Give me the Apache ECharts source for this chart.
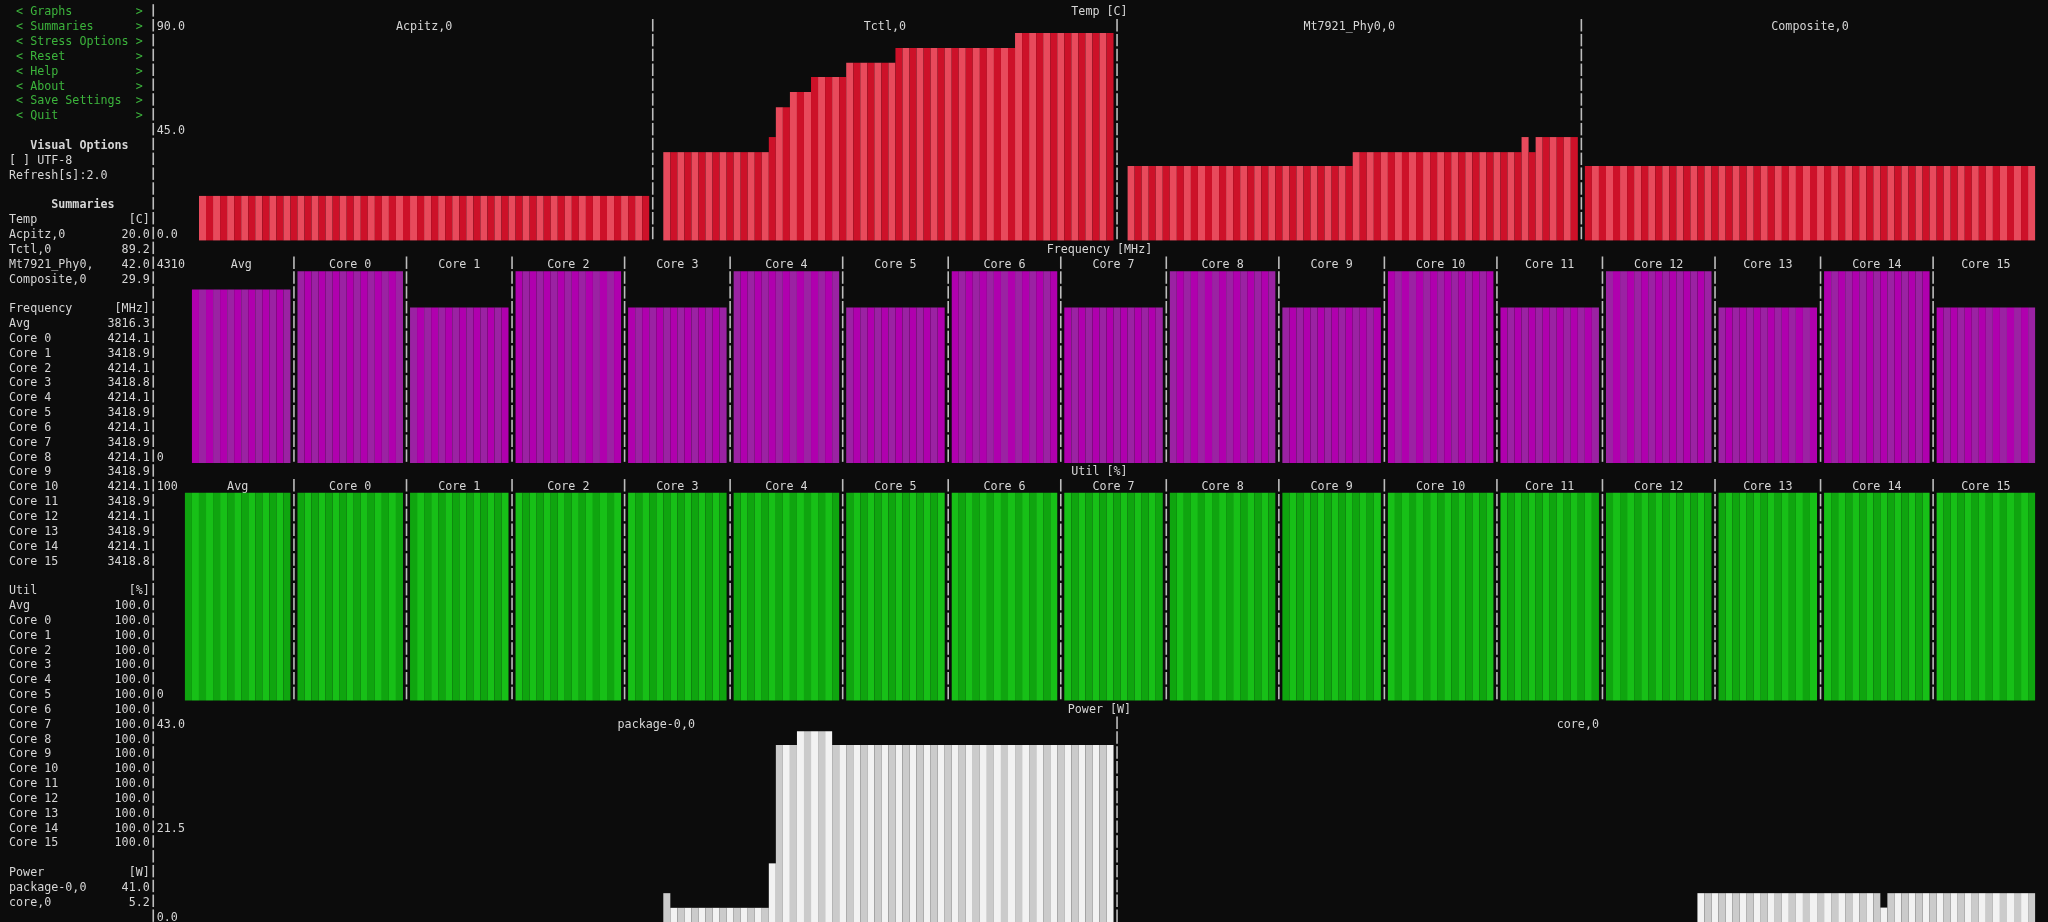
<!DOCTYPE html>
<html><head><meta charset="utf-8">
<script src="https://cdn.jsdelivr.net/npm/echarts@6/dist/echarts.min.js"></script>
<style>html,body{margin:0;padding:0;background:#0c0c0c;}#c{width:2048px;height:922px;}</style>
</head><body><div id="c"></div>
<script>
// ---------- DATA ----------
const menuItems = ['Graphs','Summaries','Stress Options','Reset','Help','About','Save Settings','Quit'];
const tempNames = ['Acpitz,0','Tctl,0','Mt7921_Phy0,0','Composite,0'];
const tempCurrent = ['20.0','89.2','42.0','29.9'];
const tempTicks = ['90.0','45.0','0.0'];
const tempAcpitz = [18,18,18,18,18,18,18,18,18,18,18,18,18,18,18,18,18,18,18,18,18,18,18,18,18,18,18,18,18,18,18,18,18,18,18,18,18,18,18,18,18,18,18,18,18,18,18,18,18,18,18,18,18,18,18,18,18,18,18,18,18,18,18,18];
const tempTctl = [35.7,35.7,35.7,35.7,35.7,35.7,35.7,35.7,35.7,35.7,35.7,35.7,35.7,35.7,35.7,41.8,53.9,53.9,60.0,60.0,60.0,66.1,66.1,66.1,66.1,66.1,71.8,71.8,71.8,71.8,71.8,71.8,71.8,77.8,77.8,77.8,77.8,77.8,77.8,77.8,77.8,77.8,77.8,77.8,77.8,77.8,77.8,77.8,77.8,77.8,83.9,83.9,83.9,83.9,83.9,83.9,83.9,83.9,83.9,83.9,83.9,83.9,83.9,83.9];
const tempMt = [30.1,30.1,30.1,30.1,30.1,30.1,30.1,30.1,30.1,30.1,30.1,30.1,30.1,30.1,30.1,30.1,30.1,30.1,30.1,30.1,30.1,30.1,30.1,30.1,30.1,30.1,30.1,30.1,30.1,30.1,30.1,30.1,35.7,35.7,35.7,35.7,35.7,35.7,35.7,35.7,35.7,35.7,35.7,35.7,35.7,35.7,35.7,35.7,35.7,35.7,35.7,35.7,35.7,35.7,35.7,35.7,41.8,35.7,41.8,41.8,41.8,41.8,41.8,41.8];
const tempComposite = [30.1,30.1,30.1,30.1,30.1,30.1,30.1,30.1,30.1,30.1,30.1,30.1,30.1,30.1,30.1,30.1,30.1,30.1,30.1,30.1,30.1,30.1,30.1,30.1,30.1,30.1,30.1,30.1,30.1,30.1,30.1,30.1,30.1,30.1,30.1,30.1,30.1,30.1,30.1,30.1,30.1,30.1,30.1,30.1,30.1,30.1,30.1,30.1,30.1,30.1,30.1,30.1,30.1,30.1,30.1,30.1,30.1,30.1,30.1,30.1,30.1,30.1,30.1,30.1];

const coreNames = ['Avg','Core 0','Core 1','Core 2','Core 3','Core 4','Core 5','Core 6','Core 7','Core 8','Core 9','Core 10','Core 11','Core 12','Core 13','Core 14','Core 15'];
const freqCurrent = ['3816.3','4214.1','3418.9','4214.1','3418.8','4214.1','3418.9','4214.1','3418.9','4214.1','3418.9','4214.1','3418.9','4214.1','3418.9','4214.1','3418.8'];
const freqTicks = ['4310','0'];
const freqHistory = [
 [3816.3,3816.3,3816.3,3816.3,3816.3,3816.3,3816.3,3816.3,3816.3,3816.3,3816.3,3816.3,3816.3,3816.3],
 [4214.1,4214.1,4214.1,4214.1,4214.1,4214.1,4214.1,4214.1,4214.1,4214.1,4214.1,4214.1,4214.1,4214.1,4214.1],
 [3418.9,3418.9,3418.9,3418.9,3418.9,3418.9,3418.9,3418.9,3418.9,3418.9,3418.9,3418.9,3418.9,3418.9],
 [4214.1,4214.1,4214.1,4214.1,4214.1,4214.1,4214.1,4214.1,4214.1,4214.1,4214.1,4214.1,4214.1,4214.1,4214.1],
 [3418.8,3418.8,3418.8,3418.8,3418.8,3418.8,3418.8,3418.8,3418.8,3418.8,3418.8,3418.8,3418.8,3418.8],
 [4214.1,4214.1,4214.1,4214.1,4214.1,4214.1,4214.1,4214.1,4214.1,4214.1,4214.1,4214.1,4214.1,4214.1,4214.1],
 [3418.9,3418.9,3418.9,3418.9,3418.9,3418.9,3418.9,3418.9,3418.9,3418.9,3418.9,3418.9,3418.9,3418.9],
 [4214.1,4214.1,4214.1,4214.1,4214.1,4214.1,4214.1,4214.1,4214.1,4214.1,4214.1,4214.1,4214.1,4214.1,4214.1],
 [3418.9,3418.9,3418.9,3418.9,3418.9,3418.9,3418.9,3418.9,3418.9,3418.9,3418.9,3418.9,3418.9,3418.9],
 [4214.1,4214.1,4214.1,4214.1,4214.1,4214.1,4214.1,4214.1,4214.1,4214.1,4214.1,4214.1,4214.1,4214.1,4214.1],
 [3418.9,3418.9,3418.9,3418.9,3418.9,3418.9,3418.9,3418.9,3418.9,3418.9,3418.9,3418.9,3418.9,3418.9],
 [4214.1,4214.1,4214.1,4214.1,4214.1,4214.1,4214.1,4214.1,4214.1,4214.1,4214.1,4214.1,4214.1,4214.1,4214.1],
 [3418.9,3418.9,3418.9,3418.9,3418.9,3418.9,3418.9,3418.9,3418.9,3418.9,3418.9,3418.9,3418.9,3418.9],
 [4214.1,4214.1,4214.1,4214.1,4214.1,4214.1,4214.1,4214.1,4214.1,4214.1,4214.1,4214.1,4214.1,4214.1,4214.1],
 [3418.9,3418.9,3418.9,3418.9,3418.9,3418.9,3418.9,3418.9,3418.9,3418.9,3418.9,3418.9,3418.9,3418.9],
 [4214.1,4214.1,4214.1,4214.1,4214.1,4214.1,4214.1,4214.1,4214.1,4214.1,4214.1,4214.1,4214.1,4214.1,4214.1],
 [3418.8,3418.8,3418.8,3418.8,3418.8,3418.8,3418.8,3418.8,3418.8,3418.8,3418.8,3418.8,3418.8,3418.8]
];
const utilCurrent = ['100.0','100.0','100.0','100.0','100.0','100.0','100.0','100.0','100.0','100.0','100.0','100.0','100.0','100.0','100.0','100.0','100.0'];
const utilTicks = ['100','0'];
const utilHistory = [
 [100,100,100,100,100,100,100,100,100,100,100,100,100,100,100],
 [100,100,100,100,100,100,100,100,100,100,100,100,100,100,100],
 [100,100,100,100,100,100,100,100,100,100,100,100,100,100],
 [100,100,100,100,100,100,100,100,100,100,100,100,100,100,100],
 [100,100,100,100,100,100,100,100,100,100,100,100,100,100],
 [100,100,100,100,100,100,100,100,100,100,100,100,100,100,100],
 [100,100,100,100,100,100,100,100,100,100,100,100,100,100],
 [100,100,100,100,100,100,100,100,100,100,100,100,100,100,100],
 [100,100,100,100,100,100,100,100,100,100,100,100,100,100],
 [100,100,100,100,100,100,100,100,100,100,100,100,100,100,100],
 [100,100,100,100,100,100,100,100,100,100,100,100,100,100],
 [100,100,100,100,100,100,100,100,100,100,100,100,100,100,100],
 [100,100,100,100,100,100,100,100,100,100,100,100,100,100],
 [100,100,100,100,100,100,100,100,100,100,100,100,100,100,100],
 [100,100,100,100,100,100,100,100,100,100,100,100,100,100],
 [100,100,100,100,100,100,100,100,100,100,100,100,100,100,100],
 [100,100,100,100,100,100,100,100,100,100,100,100,100,100]
];
const powerNames = ['package-0,0','core,0'];
const powerCurrent = ['41.0','5.2'];
const powerTicks = ['43.0','21.5','0.0'];
const powerPackage = [6.0,2.95,2.95,2.95,2.95,2.95,2.95,2.95,2.95,2.95,2.95,2.95,2.95,2.95,2.95,12.2,36.8,36.8,36.8,39.7,39.7,39.7,39.7,39.7,36.8,36.8,36.8,36.8,36.8,36.8,36.8,36.8,36.8,36.8,36.8,36.8,36.8,36.8,36.8,36.8,36.8,36.8,36.8,36.8,36.8,36.8,36.8,36.8,36.8,36.8,36.8,36.8,36.8,36.8,36.8,36.8,36.8,36.8,36.8,36.8,36.8,36.8,36.8,36.8];
const powerCore = [6.0,6.0,6.0,6.0,6.0,6.0,6.0,6.0,6.0,6.0,6.0,6.0,6.0,6.0,6.0,6.0,6.0,6.0,6.0,6.0,6.0,6.0,6.0,6.0,6.0,6.0,3.0,6.0,6.0,6.0,6.0,6.0,6.0,6.0,6.0,6.0,6.0,6.0,6.0,6.0,6.0,6.0,6.0,6.0,6.0,6.0,6.0,6.0];

// ---------- LAYOUT ----------
const CW = 7.035, OFF = 2, RH = 14.84;
const X = c => OFF + c * CW;
const RT = r => 3 + r * RH;
const RM = r => 3 + (r + 0.5) * RH + 2;
const FONT = '"DejaVu Sans Mono", "Liberation Mono", monospace';
const FS = 11.7;
const TXT = '#d6d6d6', GREEN = '#3cb43c', SEPC = '#bdbdbd';
const RED = ['#cd1129', '#e84a5c'], MAG = ['#b000ae', '#9b22a3'], GRN = ['#17c017', '#0fa50f'], WHT = ['#f2f2f2', '#cbcbcb'];

const grids = [], xAxes = [], yAxes = [], series = [], graphics = [];
function addChart(c0, top, bottom, max, data, colors) {
  const i = grids.length;
  grids.push({left: X(c0), top: top, width: data.length * CW, height: bottom - top});
  xAxes.push({type: 'category', gridIndex: i, show: false, data: data.map((_, k) => k)});
  yAxes.push({type: 'value', gridIndex: i, show: false, min: 0, max: max});
  series.push({type: 'bar', xAxisIndex: i, yAxisIndex: i, data: data, barCategoryGap: '0%', barGap: '0%',
    silent: true, itemStyle: {color: p => ((c0 + p.dataIndex) % 2 ? colors[0] : colors[1])}});
}
function txt(s, x, row, opt) {
  opt = opt || {};
  graphics.push({type: 'text', x: x, y: RM(row), silent: true,
    style: {text: s, fill: opt.fill || TXT, fontFamily: FONT, fontSize: FS, fontWeight: opt.bold ? 'bold' : 'normal',
      align: opt.align || 'left', verticalAlign: 'middle'}});
}
function sep(col, r0, r1) {
  for (let r = r0; r <= r1; r++) {
    const x = X(col + 0.5);
    graphics.push({type: 'line', silent: true, shape: {x1: x, y1: RT(r) + 1.2, x2: x, y2: RT(r + 1) - 1.2},
      style: {stroke: SEPC, lineWidth: 1.6}});
  }
}
function center(c0, c1) { return (X(c0) + X(c1 + 1)) / 2; }

// sidebar
menuItems.forEach((m, i) => txt(' < ' + m.padEnd(14) + ' >', X(1), i, {fill: GREEN}));
txt('   Visual Options', X(1), 9, {bold: true});
txt('[ ] UTF-8', X(1), 10);
txt('Refresh[s]:2.0', X(1), 11);
txt('      Summaries', X(1), 13, {bold: true});
const line = (a, b) => a.slice(0, 20 - b.length).padEnd(20 - b.length) + b;
let r = 14;
txt(line('Temp', '[C]'), X(1), r++);
tempNames.forEach((n, i) => txt(line(n.slice(0, 12), tempCurrent[i]), X(1), r++));
r++;
txt(line('Frequency', '[MHz]'), X(1), r++);
coreNames.forEach((n, i) => txt(line(n, freqCurrent[i]), X(1), r++));
r++;
txt(line('Util', '[%]'), X(1), r++);
coreNames.forEach((n, i) => txt(line(n, utilCurrent[i]), X(1), r++));
r++;
txt(line('Power', '[W]'), X(1), r++);
powerNames.forEach((n, i) => txt(line(n, powerCurrent[i]), X(1), r++));
sep(21, 0, 61);

// panel titles
const mid = center(22, 289);
txt('Temp [C]', mid, 0, {align: 'center'});
txt('Frequency [MHz]', mid, 16, {align: 'center'});
txt('Util [%]', mid, 31, {align: 'center'});
txt('Power [W]', mid, 47, {align: 'center'});

// Temp
const tTop = RT(1), tBot = RT(16);
txt(tempTicks[0], X(22), 1); txt(tempTicks[1], X(22), 8); txt(tempTicks[2], X(22), 15);
const tempData = [tempAcpitz, tempTctl, tempMt, tempComposite];
const tempStart = [28, 94, 160, 225];
const tempRange = [[28, 91], [93, 157], [159, 223], [225, 288]];
tempData.forEach((d, i) => {
  addChart(tempStart[i], tTop, tBot, 90, d, RED);
  txt(tempNames[i], center(tempRange[i][0], tempRange[i][1]), 1, {align: 'center'});
});
sep(92, 1, 15); sep(158, 1, 15); sep(224, 1, 15);

// Frequency & Util
const coreRange = [[26,40],[42,56],[58,71],[73,87],[89,102],[104,118],[120,133],[135,149],[151,164],[166,180],[182,195],[197,211],[213,226],[228,242],[244,257],[259,273],[275,288]];
const seps = [41,57,72,88,103,119,134,150,165,181,196,212,227,243,258,274];
txt(freqTicks[0], X(22), 17); txt(freqTicks[1], X(22), 30);
txt(utilTicks[0], X(22), 32); txt(utilTicks[1], X(22), 46);
coreNames.forEach((n, i) => {
  const [a, b] = coreRange[i];
  const fd = freqHistory[i];
  addChart(b + 1 - fd.length, 267, RT(31), 4310, fd, MAG);
  txt(n, center(b + 1 - fd.length, b), 17, {align: 'center'});
  const ud = utilHistory[i];
  addChart(b + 1 - ud.length, RT(33), RT(47), 100, ud, GRN);
  txt(n, center(b + 1 - ud.length, b), 32, {align: 'center'});
});
seps.forEach(c => { sep(c, 17, 30); sep(c, 32, 46); });

// Power
const pTop = RT(48), pBot = RT(62);
txt(powerTicks[0], X(22), 48); txt(powerTicks[1], X(22), 55); txt(powerTicks[2], X(22), 61);
addChart(158 - powerPackage.length, pTop, pBot, 43, powerPackage, WHT);
addChart(289 - powerCore.length, pTop, pBot, 43, powerCore, WHT);
txt(powerNames[0], center(28, 157), 48, {align: 'center'});
txt(powerNames[1], center(159, 288), 48, {align: 'center'});
sep(158, 48, 61);

const chart = echarts.init(document.getElementById('c'), null, {renderer: 'canvas'});
chart.setOption({
  backgroundColor: '#0c0c0c', animation: false,
  grid: grids, xAxis: xAxes, yAxis: yAxes, series: series, graphic: graphics
});
</script></body></html>
